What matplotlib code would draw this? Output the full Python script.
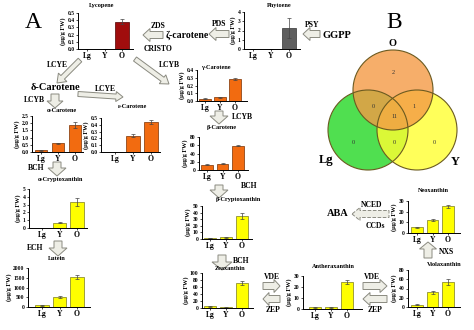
import matplotlib
matplotlib.use("Agg")
import matplotlib.pyplot as plt
from matplotlib.patches import FancyArrow, Circle

plt.rcParams['font.family'] = ['Liberation Serif', 'DejaVu Serif']
plt.rcParams['font.weight'] = 'bold'

# ---------------- data ----------------
categories = ['Lg', 'Y', 'O']
phytoene = [0, 0, 2.3];            phytoene_err = [0, 0, 1.1]
lycopene = [0, 0, 0.38];           lycopene_err = [0, 0, 0.03]
gamma_carotene = [0.03, 0.05, 0.28]; gamma_carotene_err = [0.003, 0.005, 0.015]
beta_carotene = [13, 15, 59];      beta_carotene_err = [0.8, 0.8, 1.5]
beta_crypto = [1, 2.5, 35];        beta_crypto_err = [0.2, 0.4, 5]
zeaxanthin = [5, 1.5, 72];         zeaxanthin_err = [0.8, 0.3, 6]
antheraxanthin = [1.5, 1.5, 24.5]; antheraxanthin_err = [0.3, 0.3, 2]
violaxanthin = [5, 32, 54];        violaxanthin_err = [0.5, 3, 6]
neoxanthin = [5.5, 12, 25];        neoxanthin_err = [0.4, 0.8, 1.5]
alpha_carotene = [0.12, 0.6, 1.85]; alpha_carotene_err = [0.02, 0.03, 0.2]
eps_carotene = [0, 0.24, 0.44];    eps_carotene_err = [0, 0.02, 0.025]
alpha_crypto = [0.05, 0.7, 3.3];   alpha_crypto_err = [0.01, 0.08, 0.5]
lutein = [80, 500, 1550];          lutein_err = [10, 40, 100]

venn_labels = ['O', 'Lg', 'Y']
venn_counts = {'O': 2, 'Lg': 0, 'Y': 0, 'O&Lg': 0, 'O&Y': 1, 'Lg&Y': 0, 'all': 11}

W, H = 474, 330
fig = plt.figure(figsize=(W / 100, H / 100), dpi=100)
ov = fig.add_axes([0, 0, 1, 1])
ov.set_xlim(0, W)
ov.set_ylim(H, 0)
ov.axis('off')

RED = '#A00D0D'
GRAY = '#5E5E5E'
ORANGE = '#F26B10'
YELLOW = '#FFFF00'


def panel(vals, errs, color, edge, L, R, T, B, lg, sp, ymax, ticks, fmt,
          title, tx, ty):
    ax = fig.add_axes([L / W, 1 - B / H, (R - L) / W, (B - T) / H])
    ax.bar(range(3), vals, width=0.75, color=color, edgecolor=edge,
           linewidth=0.5, yerr=errs, capsize=1.5,
           error_kw=dict(ecolor='#444444', elinewidth=0.5, capthick=0.5))
    ax.set_xlim((L - lg) / sp, (R - lg) / sp)
    ax.set_ylim(0, ymax)
    for s in ['top', 'right']:
        ax.spines[s].set_visible(False)
    for s in ['left', 'bottom']:
        ax.spines[s].set_linewidth(0.7)
    ax.set_xticks(range(3))
    ax.set_xticklabels(categories, fontsize=5.5, fontweight='bold')
    ax.set_yticks(ticks)
    ax.set_yticklabels([fmt.format(t) for t in ticks], fontsize=4, fontweight='bold')
    ax.tick_params(length=1.5, width=0.5, pad=1)
    ax.set_ylabel('(μg/g FW)', fontsize=4.5, fontweight='bold', labelpad=1)
    ax.patch.set_alpha(0)
    ov.text(tx, ty, title, fontsize=4.5, fontweight='bold', ha='center', va='center')
    return ax


panel(lycopene, lycopene_err, RED, '#500000', 78, 133, 13, 49, 87, 17.5, 0.5,
      [0, 0.1, 0.2, 0.3, 0.4, 0.5], '{:.1f}', 'Lycopene', 102, 6)
panel(phytoene, phytoene_err, GRAY, '#333333', 244, 300, 12, 49, 253, 18, 4,
      [0, 1, 2, 3, 4], '{:.0f}', 'Phytoene', 279, 5)
panel(gamma_carotene, gamma_carotene_err, ORANGE, '#7A3000', 197, 247, 70, 101, 205, 15, 0.4,
      [0, 0.1, 0.2, 0.3, 0.4], '{:.1f}', 'γ-Carotene', 216, 67)
panel(beta_carotene, beta_carotene_err, ORANGE, '#7A3000', 199, 248, 137, 170, 207, 15.5, 80,
      [0, 20, 40, 60, 80], '{:.0f}', 'β-Carotene', 222, 128)
panel(beta_crypto, beta_crypto_err, YELLOW, '#7A7A20', 202, 252, 206, 239, 210, 16, 50,
      [0, 10, 20, 30, 40, 50], '{:.0f}', 'β-Cryptoxanthin', 238, 199)
panel(zeaxanthin, zeaxanthin_err, YELLOW, '#7A7A20', 202, 253, 273, 308, 210, 16, 100,
      [0, 20, 40, 60, 80, 100], '{:.0f}', 'Zeaxanthin', 230, 268)
panel(antheraxanthin, antheraxanthin_err, YELLOW, '#7A7A20', 303, 362, 276, 309, 315, 16, 30,
      [0, 10, 20, 30], '{:.0f}', 'Antheraxanthin', 333, 266)
panel(violaxanthin, violaxanthin_err, YELLOW, '#7A7A20', 408, 460, 270, 307, 417, 15.5, 80,
      [0, 20, 40, 60, 80], '{:.0f}', 'Violaxanthin', 444, 265)
panel(neoxanthin, neoxanthin_err, YELLOW, '#7A7A20', 408, 460, 201, 233, 417, 15.5, 30,
      [0, 10, 20, 30], '{:.0f}', 'Neoxanthin', 433, 191)
panel(alpha_carotene, alpha_carotene_err, ORANGE, '#7A3000', 32, 83, 116, 152, 41, 17, 2.5,
      [0, 0.5, 1.0, 1.5, 2.0, 2.5], '{:.1f}', 'α-Carotene', 62, 110)
panel(eps_carotene, eps_carotene_err, ORANGE, '#7A3000', 101, 160, 118, 152, 115, 18, 0.5,
      [0, 0.1, 0.2, 0.3, 0.4, 0.5], '{:.1f}', 'ε-Carotene', 133, 107)
panel(alpha_crypto, alpha_crypto_err, YELLOW, '#7A7A20', 29, 87, 189, 228, 42, 17.5, 5,
      [0, 1, 2, 3, 4, 5], '{:.0f}', 'α-Cryptoxanthin', 60, 180)
panel(lutein, lutein_err, YELLOW, '#7A7A20', 28, 90, 268, 307, 42, 17.5, 2000,
      [0, 500, 1000, 1500, 2000], '{:.0f}', 'Lutein', 57, 259)


# ---------------- pathway arrows & labels ----------------
def arrow(x0, y0, x1, y1, w=7, hw=14, hl=7, ls='-'):
    ov.add_patch(FancyArrow(x0, y0, x1 - x0, y1 - y0, width=w, head_width=hw,
                            head_length=hl, length_includes_head=True,
                            fc='#EEEEE6', ec='#8A8A80', lw=0.7, ls=ls))


def lab(x, y, s, size=5.5):
    ov.text(x, y, s, fontsize=size, fontweight='bold', ha='center', va='center')


arrow(163, 35, 143, 35, w=7, hw=13, hl=7)
arrow(229, 34, 209, 34, w=7, hw=13, hl=7)
arrow(320, 34, 303, 34, w=7, hw=13, hl=7)
arrow(80, 60, 57, 83, w=5, hw=12, hl=8)
arrow(135, 59, 169, 84, w=5, hw=11, hl=8)
arrow(78, 94, 123, 97, w=5, hw=10, hl=7)
arrow(55, 94, 55, 108, w=8, hw=16, hl=7)
arrow(57, 162, 57, 176, w=8, hw=18, hl=8)
arrow(58, 241, 58, 256, w=8, hw=18, hl=8)
arrow(219, 111, 219, 124, w=8, hw=18, hl=8)
arrow(219, 185, 219, 198, w=8, hw=18, hl=8)
arrow(222, 255, 222, 270, w=8, hw=20, hl=8)
arrow(263, 286, 280, 286, w=7, hw=13, hl=6)
arrow(280, 299, 263, 299, w=7, hw=13, hl=6)
arrow(363, 286, 387, 286, w=7, hw=13, hl=7)
arrow(387, 299, 363, 299, w=7, hw=13, hl=7)
arrow(389, 214, 352, 214, w=7, hw=13, hl=8, ls='--')
arrow(428, 258, 428, 242, w=8, hw=17, hl=7)

ov.text(33, 23, 'A', fontsize=17, fontweight='normal', ha='center', va='center')
ov.text(394, 22, 'B', fontsize=17, fontweight='normal', ha='center', va='center')
lab(187, 35, 'ζ-carotene', 7)
lab(158, 26, 'ZDS')
lab(158, 49, 'CRISTO')
lab(219, 24, 'PDS')
lab(312, 25, 'PSY')
lab(337, 35, 'GGPP', 7.5)
lab(57, 65, 'LCYE')
lab(169, 65, 'LCYB')
lab(55, 88, 'δ-Carotene', 7.5)
lab(105, 89, 'LCYE')
lab(34, 100, 'LCYB')
lab(36, 168, 'BCH')
lab(35, 248, 'ECH')
lab(242, 117, 'LCYB')
lab(249, 186, 'BCH')
lab(241, 261, 'BCH')
lab(272, 277, 'VDE')
lab(273, 310, 'ZEP')
lab(372, 277, 'VDE')
lab(375, 310, 'ZEP')
lab(372, 205, 'NCED')
lab(375, 226, 'CCDs')
lab(338, 214, 'ABA', 7.5)
lab(447, 252, 'NXS')

# ---------------- Venn diagram ----------------
circles = {'Lg': ((368, 130), '#24D824'), 'Y': ((417, 130), '#FFFF31'),
           'O': ((393, 90), '#F49A45')}
for name in ['Lg', 'Y', 'O']:
    (cx, cy), col = circles[name]
    ov.add_patch(Circle((cx, cy), 40, fc=col, alpha=0.8, ec='none'))
for name in ['Lg', 'Y', 'O']:
    (cx, cy), col = circles[name]
    ov.add_patch(Circle((cx, cy), 40, fc='none', ec='#6B5A20', lw=0.8))

num_pos = {'O': (393, 73), 'O&Lg': (373, 107), 'O&Y': (414, 107), 'all': (394, 117),
           'Lg': (353, 142), 'Lg&Y': (394, 142), 'Y': (434, 142)}
for k, (x, y) in num_pos.items():
    ov.text(x, y, str(venn_counts[k]), fontsize=4.5, fontweight='normal',
            ha='center', va='center', color='#333333')
lab(393, 43, venn_labels[0], 7.5)
lab(326, 160, venn_labels[1], 9)
lab(455, 162, venn_labels[2], 9)

fig.savefig('out.png', dpi=100)
